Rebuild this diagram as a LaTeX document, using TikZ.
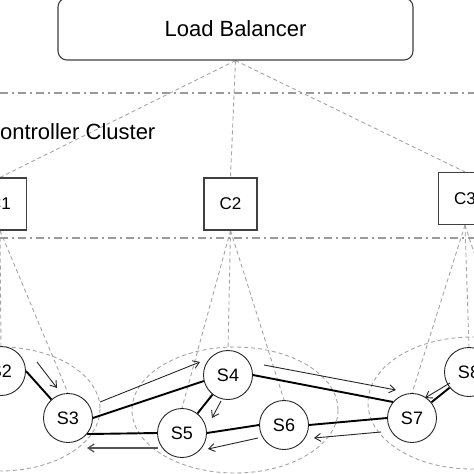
\documentclass[tikz,border=0pt]{standalone}
\usepackage{fontspec}
\setmainfont{Liberation Sans}
\usetikzlibrary{arrows.meta,backgrounds}
\definecolor{dgray}{HTML}{A4A4A4}
\definecolor{ddgray}{HTML}{9A9A9A}
\definecolor{boxc}{HTML}{404040}
\definecolor{flowgray}{HTML}{555555}
\begin{document}
\begin{tikzpicture}[x=1pt,y=-1pt,
  domline/.style={draw=dgray, line width=0.9pt, dash pattern=on 4pt off 3pt},
  sepline/.style={draw=ddgray, line width=1.6pt, dash pattern=on 8pt off 4pt on 2pt off 4pt},
  ctrl/.style={draw=boxc, fill=white, line width=1.1pt, minimum width=53pt, minimum height=52pt, inner sep=0pt, font=\fontsize{17}{20}\selectfont},
  sw/.style={circle, draw=black!85, fill=white, line width=0.9pt, minimum size=49pt, inner sep=0pt, font=\fontsize{18}{21}\selectfont},
  link/.style={draw=black, line width=1.9pt},
  flow/.style={draw=black!85, line width=0.9pt, -{Straight Barb[length=6pt,width=8pt]}},
]
\useasboundingbox (0,0) rectangle (474,474);

% nodes
\node[draw=boxc, fill=white, rounded corners=9pt, line width=1.1pt, minimum width=355pt, minimum height=62pt, inner sep=0pt, font=\fontsize{22}{26}\selectfont] (lb) at (235.5,29) {\raisebox{-2.5pt}{Load Balancer}};
\node[anchor=base west, inner sep=0pt, font=\fontsize{22}{26}\selectfont] (cc) at (-16,139) {Controller Cluster};

\node[ctrl] (c1) at (0,204) {C1};
\node[ctrl] (c2) at (230.5,204) {C2};
\node[ctrl] (c3) at (465,198.5) {C3};

\node[sw] (s2) at (1,371) {S2};
\node[sw] (s3) at (68,418) {S3};
\node[sw] (s4) at (228,375) {S4};
\node[sw] (s5) at (182,433) {S5};
\node[sw] (s6) at (284,425) {S6};
\node[sw] (s7) at (412,418) {S7};
\node[sw] (s8) at (469,372) {S8};
\coordinate (s9top) at (520,394);

% background: domains, separators, control lines
\begin{scope}[on background layer]
  \draw[sepline] (0,93) -- (474,93);
  \draw[sepline] (0,238) -- (474,238);
  \draw[domline] (0,409) ellipse [x radius=100, y radius=62];
  \draw[domline] (235,410) ellipse [x radius=103, y radius=63];
  \draw[domline] (472,403) ellipse [x radius=104, y radius=66];
  \draw[domline] (lb.south) -- (c1.north);
  \draw[domline] (lb.south) -- (c2.north);
  \draw[domline] (lb.south) -- (c3.north);
  \draw[domline] (c1.south) -- (s2.north);
  \draw[domline] (c1.south) -- (s3.north);
  \draw[domline] (c2.south) -- (s4.north);
  \draw[domline] (c2.south) -- (s5.north);
  \draw[domline] (c2.south) -- (s6.north);
  \draw[domline] (c3.south) -- (s7.north);
  \draw[domline] (c3.south) -- (s8.north);
  \draw[domline] (c3.south) -- (s9top);
\end{scope}

% links
\draw[link] (s2.east) -- (s3);
\draw[link] (s3.east) -- (s4.194);
\draw[link] (s3.-40) -- (s5.west);
\draw[link] (s4) -- (s5);
\draw[link] (s5.east) -- (s6.west);
\draw[link] (s4.east) -- (s7.140);
\draw[link] (s6.east) -- (s7.west);
\draw[link] (s7) -- (s8);

% flow arrows
\coordinate (a1s) at (37,362);  \coordinate (a1e) at (57,388);
\coordinate (a2s) at (100,402); \coordinate (a2e) at (200,362);
\coordinate (a3s) at (221,401); \coordinate (a3e) at (212,418);
\coordinate (a4s) at (264,365); \coordinate (a4e) at (396,390);
\coordinate (a5s) at (450,383); \coordinate (a5e) at (425,398);
\coordinate (a6s) at (381,432); \coordinate (a6e) at (314,438);
\coordinate (a7s) at (258,438); \coordinate (a7e) at (208,449);
\coordinate (a8s) at (158,448); \coordinate (a8e) at (87,448);
\draw[flow] (a1s) -- (a1e);
\draw[flow] (a2s) -- (a2e);
\draw[flow] (a3s) -- (a3e);
\draw[flow] (a4s) -- (a4e);
\draw[flow] (a5s) -- (a5e);
\draw[flow] (a6s) -- (a6e);
\draw[flow] (a7s) -- (a7e);
\draw[flow, draw=flowgray, line width=1.3pt] (a8s) -- (a8e);
\end{tikzpicture}
\end{document}
